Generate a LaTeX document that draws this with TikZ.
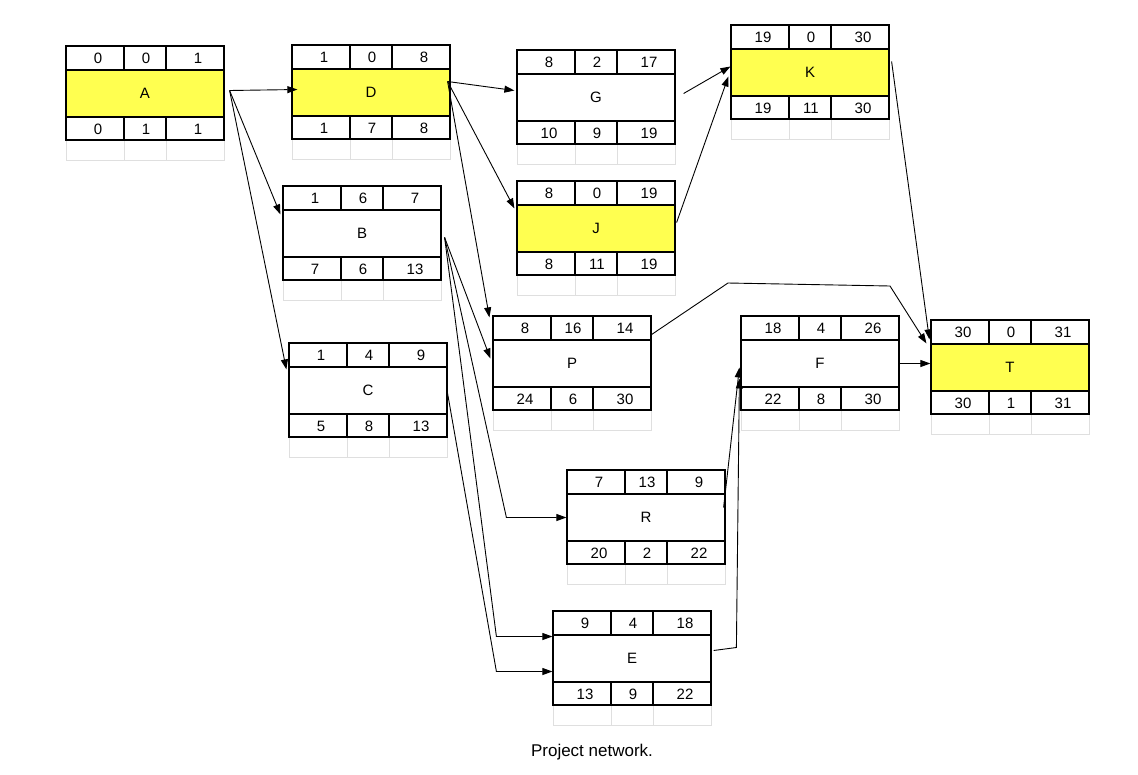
\documentclass[tikz,border=0pt]{standalone}
\usepackage{fontspec}
\setmainfont{Liberation Sans}
\usetikzlibrary{arrows.meta,calc}
\definecolor{hl}{RGB}{255,255,80}
\tikzset{
  midbox/.style={draw=black,line width=1.2pt,minimum width=158pt,minimum height=47pt,inner sep=0pt,font=\fontsize{15}{18}\selectfont},
  num/.style={font=\fontsize{15}{18}\selectfont,inner sep=0pt},
  frame/.style={draw=black,line width=1.2pt},
  ghost/.style={draw=gray!25,line width=0.6pt},
  conn/.style={draw=black,line width=0.9pt,-{Triangle[length=10pt,width=7pt]}},
  seg/.style={draw=black,line width=0.9pt}
}
\newcommand\abox[9]{%
\begin{scope}[shift={(#2,#3)}]
 \draw[ghost] (0,94) rectangle (158,114) (58,94)--(58,114) (100,94)--(100,114);
 \node[midbox,fill=#4] (#1) at (79,47.5) {#8};
 \draw[frame] (0,0) rectangle (158,94) (58,0)--(58,24) (100,0)--(100,24) (58,71)--(58,94) (100,71)--(100,94);
 \node[num] at (32,12) {#5};
 \node[num] at (80,12) {#6};
 \node[num] at (132,12) {#7};
 \foreach \p/\q/\r in {#9}{
   \node[num] at (32,83) {\p};
   \node[num] at (80,83) {\q};
   \node[num] at (132,83) {\r};}
\end{scope}}
\begin{document}
\begin{tikzpicture}[x=1pt,y=-1pt]
\useasboundingbox (0,0) rectangle (1138,774);
\abox{A}{66}{46}{hl}{0}{0}{1}{A}{0/1/1}
\abox{D}{292}{45}{hl}{1}{0}{8}{D}{1/7/8}
\abox{G}{517}{50}{white}{8}{2}{17}{G}{10/9/19}
\abox{K}{731}{25}{hl}{19}{0}{30}{K}{19/11/30}
\abox{B}{283}{186}{white}{1}{6}{7}{B}{7/6/13}
\abox{J}{517}{181}{hl}{8}{0}{19}{J}{8/11/19}
\abox{P}{493}{316}{white}{8}{16}{14}{P}{24/6/30}
\abox{F}{741}{316}{white}{18}{4}{26}{F}{22/8/30}
\abox{T}{931}{320}{hl}{30}{0}{31}{T}{30/1/31}
\abox{C}{289}{343}{white}{1}{4}{9}{C}{5/8/13}
\abox{R}{567}{470}{white}{7}{13}{9}{R}{20/2/22}
\abox{E}{553}{611}{white}{9}{4}{18}{E}{13/9/22}
\coordinate (a0) at ([xshift=5pt,yshift=3pt]A.east);
\coordinate (d0) at ([xshift=-3pt,yshift=11pt]D.east);
\coordinate (b0) at ([xshift=3pt,yshift=-4pt]B.east);
\coordinate (c0) at ([yshift=-3pt]C.east);
\coordinate (p1) at (728,283);
\coordinate (p2) at (890,286);
\path[conn] (a0) -- ([xshift=6pt,yshift=3pt]D.west);
\path[conn] (a0) -- ([xshift=-2pt,yshift=-5pt]B.north west);
\path[conn] (a0) -- ([xshift=-2pt,yshift=-3pt]C.north west);
\path[conn] (d0) -- ([xshift=-2pt,yshift=7pt]G.west);
\path[conn] (d0) -- ([xshift=-2pt,yshift=-4pt]J.north west);
\path[conn] (d0) -- ([xshift=-3pt,yshift=22pt]P.north west);
\path[conn] (b0) -- ([xshift=-2pt,yshift=5pt]P.west);
\path[conn] (b0) -- ([xshift=-60pt]R.west) -- (R.west);
\path[conn] (b0) -- ([xshift=-56pt,yshift=22pt]E.west) -- ([yshift=22pt]E.west);
\path[conn] (c0) -- ([xshift=-56pt,yshift=-13pt]E.west) -- ([yshift=-13pt]E.west);
\path[conn] ([yshift=29pt]P.east) -- (p1) -- (p2) -- ([xshift=-4pt]T.north west);
\path[conn] ([xshift=2pt,yshift=11pt]K.east) -- ([xshift=-1pt,yshift=4pt]T.north west);
\path[conn] (F.east) -- (F.east -| T.west);
\path[conn] ([xshift=-2pt,yshift=10pt]R.east) -- ([xshift=-1pt,yshift=-4pt]F.west);
\path[conn] ([xshift=2pt,yshift=8pt]E.east) -- ([xshift=-4pt,yshift=11pt]E.east -| F.west) -- ([xshift=-1pt,yshift=-15pt]F.west);
\path[conn] ([xshift=8pt,yshift=4pt]G.east) -- ([yshift=6pt]K.west);
\path[conn] ([xshift=1pt,yshift=6pt]J.east) -- ([xshift=-2pt,yshift=-4pt]K.west);
\node[font=\fontsize{17}{20}\selectfont] (cap) at (592,752) {Project network.};
\end{tikzpicture}
\end{document}
